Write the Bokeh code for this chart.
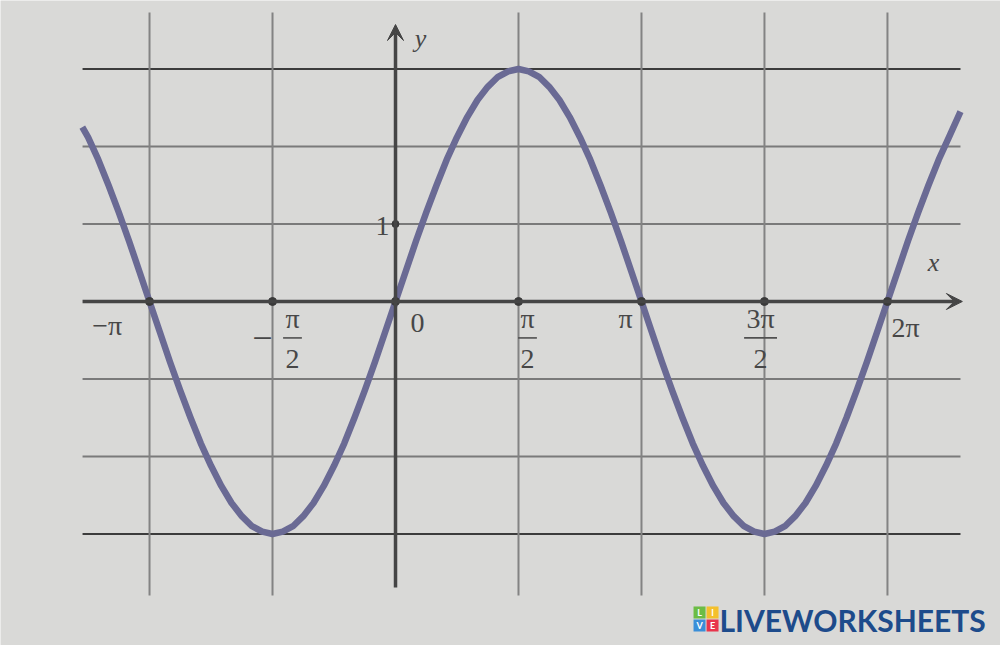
import math
from bokeh.plotting import figure
from bokeh.models import Range1d, Arrow, VeeHead
from bokeh.core.properties import value
from bokeh.embed import file_html
from bokeh.resources import INLINE

# ---- data ----
PI = math.pi
x_ticks = [-PI, -PI / 2, 0.0, PI / 2, PI, 3 * PI / 2, 2 * PI]
grid_y = [-3, -2, -1, 0, 1, 2, 3]

x_curve = [-4.0, -3.927, -3.796, -3.665, -3.534, -3.403, -3.272, -3.142, -3.011, -2.880,
           -2.749, -2.618, -2.487, -2.356, -2.225, -2.094, -1.963, -1.833, -1.702, -1.571,
           -1.440, -1.309, -1.178, -1.047, -0.916, -0.785, -0.654, -0.524, -0.393, -0.262,
           -0.131, 0.0, 0.131, 0.262, 0.393, 0.524, 0.654, 0.785, 0.916, 1.047,
           1.178, 1.309, 1.440, 1.571, 1.702, 1.833, 1.963, 2.094, 2.225, 2.356,
           2.487, 2.618, 2.749, 2.880, 3.011, 3.142, 3.272, 3.403, 3.534, 3.665,
           3.796, 3.927, 4.058, 4.189, 4.320, 4.451, 4.581, 4.712, 4.843, 4.974,
           5.105, 5.236, 5.367, 5.498, 5.629, 5.760, 5.890, 6.021, 6.152, 6.283,
           6.414, 6.545, 6.676, 6.807, 6.938, 7.069, 7.216]
y_curve = [2.25, 2.12, 1.83, 1.50, 1.15, 0.78, 0.39, 0.0, -0.39, -0.78,
           -1.15, -1.50, -1.83, -2.12, -2.38, -2.60, -2.77, -2.90, -2.97, -3.00,
           -2.97, -2.90, -2.77, -2.60, -2.38, -2.12, -1.83, -1.50, -1.15, -0.78,
           -0.39, 0.0, 0.39, 0.78, 1.15, 1.50, 1.83, 2.12, 2.38, 2.60,
           2.77, 2.90, 2.97, 3.00, 2.97, 2.90, 2.77, 2.60, 2.38, 2.12,
           1.83, 1.50, 1.15, 0.78, 0.39, 0.0, -0.39, -0.78, -1.15, -1.50,
           -1.83, -2.12, -2.38, -2.60, -2.77, -2.90, -2.97, -3.00, -2.97, -2.90,
           -2.77, -2.60, -2.38, -2.12, -1.83, -1.50, -1.15, -0.78, -0.39, 0.0,
           0.39, 0.78, 1.15, 1.50, 1.83, 2.12, 2.45]

# ---- figure ----
X0, X1 = -5.045, 7.727
Y0, Y1 = -4.439, 3.884
p = figure(width=1000, height=645, x_range=Range1d(X0, X1), y_range=Range1d(Y0, Y1),
           output_backend="svg", toolbar_location=None, min_border=0,
           x_axis_location=None, y_axis_location=None)
p.grid.visible = False
p.background_fill_color = "#d9d9d7"
p.border_fill_color = "#d9d9d7"
p.outline_line_color = None

GX0, GX1 = -3.997, 7.216   # horizontal extent of grid
GY0, GY1 = -3.794, 3.729   # vertical extent of grid

# horizontal grid lines
light_y = [g for g in grid_y if abs(g) not in (0, 3)]
dark_y = [g for g in grid_y if abs(g) == 3]
p.segment(x0=[GX0] * len(light_y), x1=[GX1] * len(light_y), y0=light_y, y1=light_y,
          line_color="#7a7a7a", line_width=2)
p.segment(x0=[GX0] * len(dark_y), x1=[GX1] * len(dark_y), y0=dark_y, y1=dark_y,
          line_color="#3c3c3c", line_width=2.2)
# vertical grid lines
vx = [t for t in x_ticks if t != 0]
p.segment(x0=vx, x1=vx, y0=[GY0] * len(vx), y1=[GY1] * len(vx),
          line_color="#838383", line_width=2)

# curve
p.line(x_curve, y_curve, line_color="#6a6a94", line_width=6.5, line_cap="butt",
       line_join="round")

# axes
AX = "#454545"
p.add_layout(Arrow(x_start=GX0, y_start=0, x_end=7.24, y_end=0, line_color=AX, line_width=3.5,
                   end=VeeHead(size=16, fill_color=AX, line_color=AX)))
p.add_layout(Arrow(x_start=0, y_start=-3.69, x_end=0, y_end=3.574, line_color=AX, line_width=3.5,
                   end=VeeHead(size=16, fill_color=AX, line_color=AX)))

# dots on axes
p.scatter(x_ticks, [0] * len(x_ticks), size=8, color="#3a3a3a")
p.scatter([0], [1], size=7, color="#3a3a3a")

# tick labels
TC = "#474747"
FS = "28px"
font = value("Liberation Serif")
t_x = [x_ticks[0] - 0.54, x_ticks[2] + 0.281, x_ticks[4] - 0.204, x_ticks[6] + 0.23, -0.166]
t_y = [-0.31, -0.28, -0.22, -0.335, 0.97]
t_s = ["−π", "0", "π", "2π", "1"]
p.text(t_x, t_y, text=t_s, text_font=font, text_font_size=FS, text_color=TC,
       text_align="center", text_baseline="middle")
# minus sign in front of the -pi/2 fraction
p.text([x_ticks[1] - 0.13], [-0.47], text=["−"], text_font=font, text_font_size="36px",
       text_color=TC, text_align="center", text_baseline="middle")

# fractions
fr_x = [x_ticks[1] + 0.255, x_ticks[3] + 0.115, x_ticks[5] - 0.05]
fr_num = ["π", "π", "3π"]
p.text(fr_x, [-0.22] * 3, text=fr_num, text_font=font, text_font_size=FS, text_color=TC,
       text_align="center", text_baseline="middle")
p.text(fr_x, [-0.74] * 3, text=["2"] * 3, text_font=font, text_font_size=FS, text_color=TC,
       text_align="center", text_baseline="middle")
bar_w = [0.12, 0.12, 0.21]
p.segment(x0=[a - w for a, w in zip(fr_x, bar_w)], x1=[a + w for a, w in zip(fr_x, bar_w)],
          y0=[-0.47] * 3, y1=[-0.47] * 3, line_color="#505050", line_width=1.6)

# axis names
p.text([0.319, 6.871], [3.39, 0.50], text=["y", "x"], text_font=font, text_font_size="26px",
       text_font_style="italic", text_color=TC, text_align="center", text_baseline="middle")

# watermark
sq_x = [3.883, 4.049, 3.883, 4.049]
sq_y = [-4.013, -4.013, -4.181, -4.181]
sq_c = ["#6cbd45", "#f4c02c", "#3a8ed8", "#e8354c"]
p.rect(sq_x, sq_y, width=12, height=12, width_units="screen", height_units="screen",
       fill_color=sq_c, line_color=None)
p.text(sq_x, sq_y, text=["L", "I", "V", "E"], text_font=value("Lato"), text_font_size="9px",
       text_font_style="bold", text_color="white", text_align="center", text_baseline="middle")
p.text([4.138], [-4.116], text=["LIVEWORKSHEETS"], text_font=value("Lato"),
       text_font_size="30px", text_font_style="bold", text_color="#1d4b8b",
       text_align="left", text_baseline="middle")

open("out.html", "w").write(file_html(p, INLINE))
